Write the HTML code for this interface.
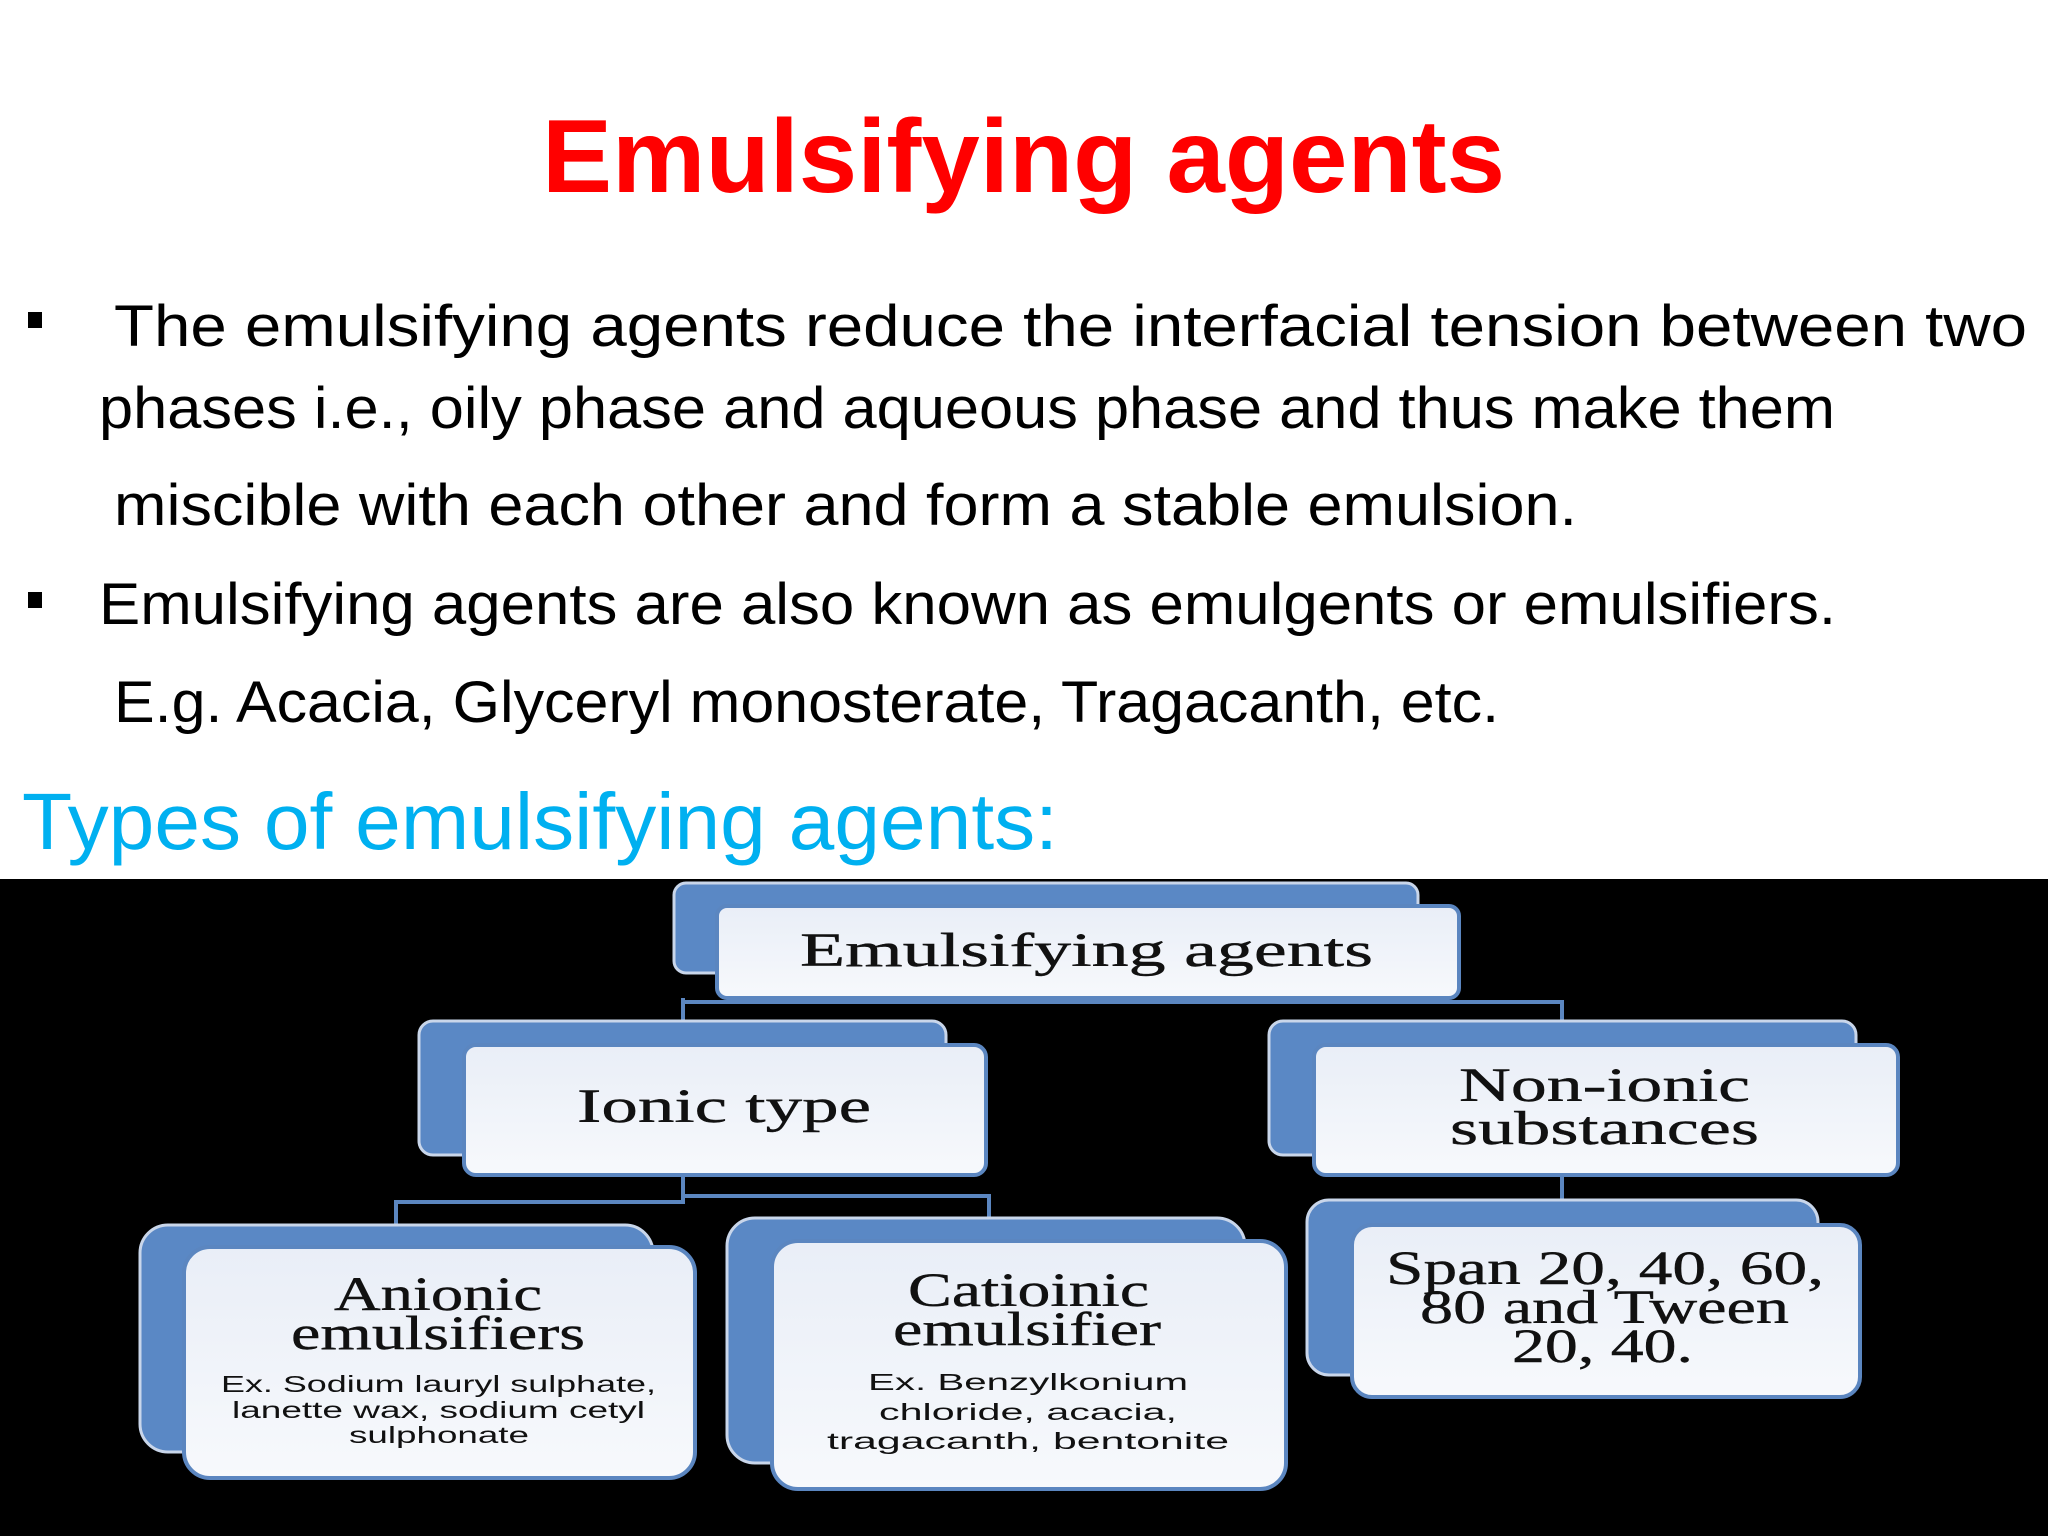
<!DOCTYPE html>
<html><head><meta charset="utf-8"><style>
html,body{margin:0;padding:0;background:#fff;}
svg{display:block;}
</style></head><body>
<svg width="2048" height="1536" viewBox="0 0 2048 1536" xmlns="http://www.w3.org/2000/svg">
<defs>
<linearGradient id="g" x1="0" y1="0" x2="0" y2="1">
<stop offset="0" stop-color="#e9eef7"/><stop offset="1" stop-color="#f7f9fc"/>
</linearGradient>
</defs>
<rect width="2048" height="1536" fill="#fff"/>
<text x="542" y="192" font-family="Liberation Sans, sans-serif" font-weight="bold" font-size="104" fill="#ff0000" textLength="963" lengthAdjust="spacingAndGlyphs">Emulsifying agents</text>
<g font-family="Liberation Sans, sans-serif" font-size="58" fill="#000">
<rect x="28" y="312" width="14" height="16"/>
<text x="114" y="346" textLength="1913" lengthAdjust="spacingAndGlyphs">The emulsifying agents reduce the interfacial tension between two</text>
<text x="99" y="428" textLength="1736" lengthAdjust="spacingAndGlyphs">phases i.e., oily phase and aqueous phase and thus make them</text>
<text x="114" y="525" textLength="1463" lengthAdjust="spacingAndGlyphs">miscible with each other and form a stable emulsion.</text>
<rect x="28" y="592" width="14" height="16"/>
<text x="99" y="624" textLength="1737" lengthAdjust="spacingAndGlyphs">Emulsifying agents are also known as emulgents or emulsifiers.</text>
<text x="114" y="722" textLength="1385" lengthAdjust="spacingAndGlyphs">E.g. Acacia, Glyceryl monosterate, Tragacanth, etc.</text>
</g>
<text x="22" y="849" font-family="Liberation Sans, sans-serif" font-size="80" fill="#00b0f0" textLength="1036" lengthAdjust="spacingAndGlyphs">Types of emulsifying agents:</text>

<rect x="0" y="879" width="2048" height="657" fill="#000"/>
<g stroke="#5b86c0" stroke-width="4" fill="none">
<polyline points="683,998 683,1002 1562,1002 1562,1021"/>
<line x1="683" y1="1002" x2="683" y2="1021"/>
<polyline points="683,1175 683,1202 396,1202 396,1225"/>
<polyline points="683,1196 989,1196 989,1218"/>
<line x1="1562" y1="1175" x2="1562" y2="1200"/>
</g>
<g stroke="#c9d6ea" stroke-width="3">
<rect x="674" y="883" width="744" height="90" rx="12" fill="#5a88c5"/>
<rect x="419" y="1021" width="527" height="134" rx="14" fill="#5a88c5"/>
<rect x="1269" y="1021" width="587" height="134" rx="14" fill="#5a88c5"/>
<rect x="140" y="1225" width="513" height="227" rx="28" fill="#5a88c5"/>
<rect x="727" y="1218" width="518" height="245" rx="28" fill="#5a88c5"/>
<rect x="1307" y="1200" width="511" height="175" rx="22" fill="#5a88c5"/>
</g>
<g stroke="#5b86c0" stroke-width="4" fill="url(#g)">
<rect x="717" y="906" width="742" height="92" rx="10"/>
<rect x="464" y="1045" width="522" height="130" rx="12"/>
<rect x="1314" y="1045" width="584" height="130" rx="12"/>
<rect x="184" y="1247" width="511" height="231" rx="26"/>
<rect x="772" y="1241" width="514" height="248" rx="26"/>
<rect x="1352" y="1225" width="508" height="172" rx="20"/>
</g>
<g font-family="Liberation Serif, serif" fill="#111" font-size="48" stroke="#111" stroke-width="0.4">
<text x="800" y="966" textLength="573" lengthAdjust="spacingAndGlyphs">Emulsifying agents</text>
<text x="577" y="1122" textLength="294" lengthAdjust="spacingAndGlyphs">Ionic type</text>
<text x="1459" y="1101" textLength="291" lengthAdjust="spacingAndGlyphs">Non-ionic</text>
<text x="1450" y="1144" textLength="309" lengthAdjust="spacingAndGlyphs">substances</text>
<text x="334" y="1310" textLength="208" lengthAdjust="spacingAndGlyphs">Anionic</text>
<text x="291" y="1349" textLength="294" lengthAdjust="spacingAndGlyphs">emulsifiers</text>
<text x="908" y="1306" textLength="241" lengthAdjust="spacingAndGlyphs">Catioinic</text>
<text x="893" y="1345" textLength="268" lengthAdjust="spacingAndGlyphs">emulsifier</text>
<text x="1386" y="1284" textLength="438" lengthAdjust="spacingAndGlyphs">Span 20, 40, 60,</text>
<text x="1420" y="1323" textLength="369" lengthAdjust="spacingAndGlyphs">80 and Tween</text>
<text x="1512" y="1362" textLength="181" lengthAdjust="spacingAndGlyphs">20, 40.</text>
</g>
<g font-family="Liberation Sans, sans-serif" fill="#111" font-size="23">
<text x="221" y="1392" textLength="435" lengthAdjust="spacingAndGlyphs">Ex. Sodium lauryl sulphate,</text>
<text x="232" y="1418" textLength="413" lengthAdjust="spacingAndGlyphs">lanette wax, sodium cetyl</text>
<text x="349" y="1443" textLength="180" lengthAdjust="spacingAndGlyphs">sulphonate</text>
<text x="868" y="1390" textLength="320" lengthAdjust="spacingAndGlyphs">Ex. Benzylkonium</text>
<text x="879" y="1420" textLength="298" lengthAdjust="spacingAndGlyphs">chloride, acacia,</text>
<text x="827" y="1449" textLength="402" lengthAdjust="spacingAndGlyphs">tragacanth, bentonite</text>
</g>
</svg>
</body></html>
